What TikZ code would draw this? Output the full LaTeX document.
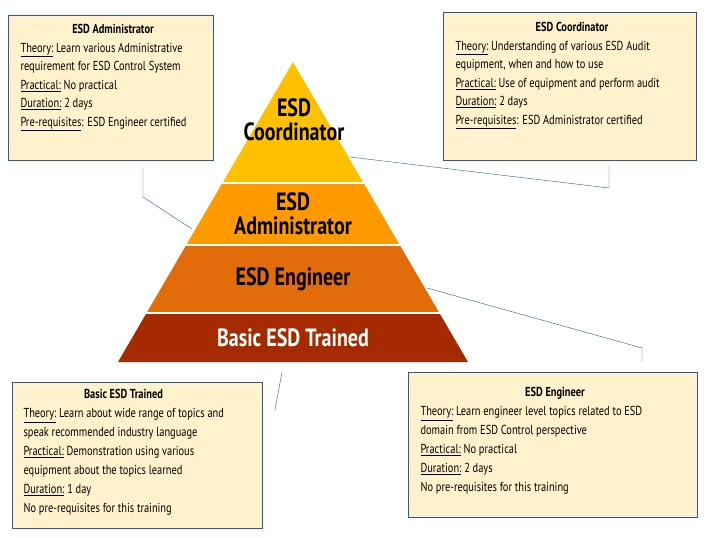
\documentclass[tikz,border=0pt]{standalone}
\usepackage{fontspec}
\setmainfont[FakeStretch=0.8]{PT Sans}
\usetikzlibrary{calc,positioning}
\definecolor{boxfill}{HTML}{FFF2CC}
\definecolor{boxline}{HTML}{2F5597}
\definecolor{layerA}{HTML}{FFC000}
\definecolor{layerB}{HTML}{FF9900}
\definecolor{layerC}{HTML}{E26B0A}
\definecolor{layerD}{HTML}{A52A00}
\tikzset{
  infobox/.style={draw=boxline, fill=boxfill, rectangle, anchor=north west,
    inner sep=0pt},
  layer/.style={draw=white, line width=1.5pt},
  layertext/.style={font=\fontsize{25}{24}\selectfont\bfseries, align=center},
  link/.style={boxline, thin}
}
\newcommand{\ul}[1]{\underline{#1}}
\newcommand{\layertrap}[3]{% top y, bottom y, colour
  \fill[#3] ({293-0.58333*(#1-62)},#1) -- ({293+0.58333*(#1-62)},#1)
    -- ({293+0.58333*(#2-62)},#2) -- ({293-0.58333*(#2-62)},#2) -- cycle;}
\begin{document}
\begin{tikzpicture}[x=1pt,y=-1pt]
  \useasboundingbox (0,0) rectangle (713,538);

  % pyramid layers
  \layertrap{62}{183}{layerA}
  \layertrap{183}{245}{layerB}
  \layertrap{245}{313}{layerC}
  \layertrap{313}{362}{layerD}
  \draw[layer] (150,183) -- (436,183);
  \draw[layer] (150,245) -- (436,245);
  \draw[layer] (100,313) -- (486,313);

  \node [layertext] (coord_label) at (294,120) {ESD\\Coordinator};
  \node [layertext] (admin_label) at (293,214) {ESD\\Administrator};
  \node [layertext] (eng_label) at (293,279) {ESD Engineer};
  \node [layertext, text=white] (basic_label) at (293,338) {Basic ESD Trained};

  % info boxes
  \node [infobox, minimum width=205pt, minimum height=145pt] (admin_box) at (8,15) {};
  \node [below right=6pt and 9pt of admin_box.north west, anchor=north west, align=left,
    font=\fontsize{13}{18.5}\selectfont] (admin_text)
    {\makebox[185pt]{\bfseries ESD Administrator}\\
     \ul{Theory:} Learn various Administrative\\
     requirement for ESD Control System\\
     \ul{Practical:} No practical\\
     \ul{Duration:} 2 days\\
     \ul{Pre-requisites}: ESD Engineer certified};

  \node [infobox, minimum width=253pt, minimum height=148pt] (coord_box) at (443,12) {};
  \node [below right=7pt and 9pt of coord_box.north west, anchor=north west, align=left,
    font=\fontsize{13}{18.5}\selectfont] (coord_text)
    {\makebox[233pt]{\bfseries ESD Coordinator}\\
     \ul{Theory:} Understanding of various ESD Audit\\
     equipment, when and how to use\\
     \ul{Practical:} Use of equipment and perform audit\\
     \ul{Duration:} 2 days\\
     \ul{Pre-requisites}: ESD Administrator certified};

  \node [infobox, minimum width=250pt, minimum height=146pt] (basic_box) at (12,382) {};
  \node [below right=4pt and 8pt of basic_box.north west, anchor=north west, align=left,
    font=\fontsize{13}{19}\selectfont] (basic_text)
    {\makebox[200pt]{\bfseries Basic ESD Trained}\\
     \ul{Theory:} Learn about wide range of topics and\\
     speak recommended industry language\\
     \ul{Practical:} Demonstration using various\\
     equipment about the topics learned\\
     \ul{Duration:} 1 day\\
     No pre-requisites for this training};

  \node [infobox, minimum width=289pt, minimum height=145pt] (eng_box) at (408,372) {};
  \node [below right=12pt and 9pt of eng_box.north west, anchor=north west, align=left,
    font=\fontsize{13}{19}\selectfont] (eng_text)
    {\makebox[269pt]{\bfseries ESD Engineer}\\
     \ul{Theory:} Learn engineer level topics related to ESD\\
     domain from ESD Control perspective\\
     \ul{Practical:} No practical\\
     \ul{Duration:} 2 days\\
     No pre-requisites for this training};

  % connectors
  \coordinate (admin_bend) at (143,197);
  \coordinate (coord_bend) at (609,188);
  \coordinate (eng_bend) at (642,348);
  \draw [link] (143,168) -- (admin_bend) -- (192,229);
  \draw [link] (350,157) -- (coord_bend) -- (609,165);
  \draw [link] (282,372) -- (275,410);
  \draw [link] (427,288) -- (eng_bend) -- (642,362);
\end{tikzpicture}
\end{document}
